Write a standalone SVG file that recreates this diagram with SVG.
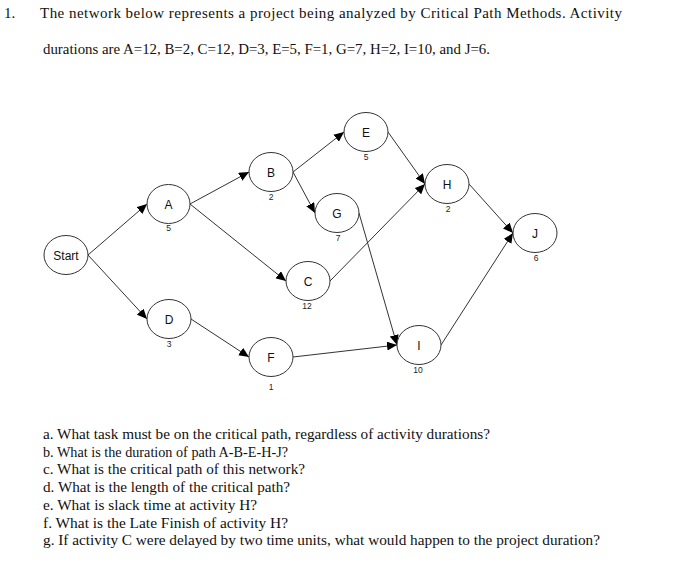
<svg xmlns="http://www.w3.org/2000/svg" width="700" height="585" viewBox="0 0 700 585">
<style>
.t{font-family:"Liberation Serif","Times New Roman",serif;font-size:15px;fill:#111}
.q{font-family:"Liberation Serif","Times New Roman",serif;font-size:14.5px;fill:#111}
.n ellipse{fill:#fff;stroke:#333;stroke-width:1}
.lb{font-family:"Liberation Sans",Arial,sans-serif;font-size:12px;fill:#111;text-anchor:middle}
.du{font-family:"Liberation Sans",Arial,sans-serif;font-size:8.5px;fill:#222;text-anchor:middle}
#edges line{stroke:#333;stroke-width:1;marker-end:url(#ah)}
</style>
<defs>
<marker id="ah" markerUnits="userSpaceOnUse" markerWidth="11" markerHeight="9" refX="10" refY="4.5" orient="auto">
<path d="M0,0 L10,4.5 L0,9 Z" fill="#000"/>
</marker>
</defs>
<rect width="700" height="585" fill="#fff"/>
<text class="t" x="4" y="18">1.</text>
<text class="t" x="40" y="18" textLength="582" lengthAdjust="spacing">The network below represents a project being analyzed by Critical Path Methods. Activity</text>
<text class="t" x="43" y="54" textLength="447" lengthAdjust="spacingAndGlyphs">durations are A=12, B=2, C=12, D=3, E=5, F=1, G=7, H=2, I=10, and J=6.</text>

<g id="edges">
<line x1="88" y1="255" x2="147" y2="204"/>
<line x1="88" y1="255" x2="147" y2="319"/>
<line x1="190" y1="204" x2="249" y2="172"/>
<line x1="190" y1="204" x2="286" y2="281"/>
<line x1="293" y1="172" x2="344" y2="132"/>
<line x1="293" y1="172" x2="315" y2="213"/>
<line x1="388" y1="132" x2="425" y2="184"/>
<line x1="330" y1="281" x2="425" y2="184"/>
<line x1="359" y1="213" x2="397" y2="345"/>
<line x1="469" y1="184" x2="513" y2="233"/>
<line x1="191" y1="319" x2="249" y2="357"/>
<line x1="293" y1="357" x2="397" y2="345"/>
<line x1="441" y1="345" x2="513" y2="233"/>
</g>

<g id="start" class="n"><ellipse cx="66" cy="255" rx="22" ry="19.5"/><text class="lb" x="66" y="259.5">Start</text></g>
<g id="A" class="n"><ellipse cx="168.5" cy="204" rx="21.5" ry="19.5"/><text class="lb" x="168.5" y="208.5">A</text><text class="du" x="168.5" y="231">5</text></g>
<g id="B" class="n"><ellipse cx="271" cy="172" rx="22" ry="19.5"/><text class="lb" x="271" y="176.5">B</text><text class="du" x="271" y="200">2</text></g>
<g id="E" class="n"><ellipse cx="366" cy="132" rx="22" ry="19.5"/><text class="lb" x="366" y="136.5">E</text><text class="du" x="366" y="160">5</text></g>
<g id="G" class="n"><ellipse cx="337" cy="213" rx="22" ry="19.5"/><text class="lb" x="337" y="217.5">G</text><text class="du" x="338" y="241">7</text></g>
<g id="H" class="n"><ellipse cx="447" cy="184" rx="22" ry="19.5"/><text class="lb" x="447" y="188.5">H</text><text class="du" x="448" y="212">2</text></g>
<g id="J" class="n"><ellipse cx="535" cy="233" rx="22" ry="19.5"/><text class="lb" x="535" y="237.5">J</text><text class="du" x="536" y="261">6</text></g>
<g id="C" class="n"><ellipse cx="308" cy="281" rx="22" ry="19.5"/><text class="lb" x="308" y="285.5">C</text><text class="du" x="307" y="309">12</text></g>
<g id="D" class="n"><ellipse cx="169" cy="319" rx="22" ry="19.5"/><text class="lb" x="169" y="323.5">D</text><text class="du" x="169" y="347">3</text></g>
<g id="F" class="n"><ellipse cx="271" cy="357" rx="22" ry="19.5"/><text class="lb" x="271" y="361.5">F</text><text class="du" x="271" y="390">1</text></g>
<g id="I" class="n"><ellipse cx="419" cy="345" rx="22" ry="19.5"/><text class="lb" x="419" y="349.5">I</text><text class="du" x="418" y="373">10</text></g>

<text class="q" x="43" y="439" textLength="447" lengthAdjust="spacingAndGlyphs">a. What task must be on the critical path, regardless of activity durations?</text>
<text class="q" x="43" y="456.7" textLength="245" lengthAdjust="spacingAndGlyphs">b. What is the duration of path A-B-E-H-J?</text>
<text class="q" x="43" y="474.4" textLength="262" lengthAdjust="spacingAndGlyphs">c. What is the critical path of this network?</text>
<text class="q" x="43" y="492.1" textLength="247" lengthAdjust="spacingAndGlyphs">d. What is the length of the critical path?</text>
<text class="q" x="43" y="509.8" textLength="214" lengthAdjust="spacingAndGlyphs">e. What is slack time at activity H?</text>
<text class="q" x="43" y="527.5" textLength="245" lengthAdjust="spacingAndGlyphs">f. What is the Late Finish of activity H?</text>
<text class="q" x="43" y="545.2" textLength="557" lengthAdjust="spacingAndGlyphs">g. If activity C were delayed by two time units, what would happen to the project duration?</text>
</svg>
